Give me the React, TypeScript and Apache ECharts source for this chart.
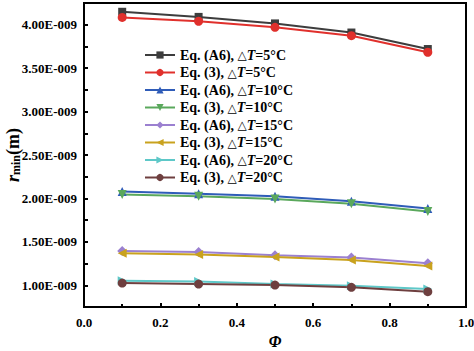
import React, { useEffect, useRef } from "react";
import * as echarts from "echarts";

const phi = [0.1, 0.3, 0.5, 0.7, 0.9];
const a6_5 = [4.149, 4.09, 4.015, 3.91, 3.72];
const eq3_5 = [4.084, 4.04, 3.97, 3.874, 3.683];
const a6_10 = [2.081, 2.055, 2.024, 1.967, 1.885];
const eq3_10 = [2.044, 2.024, 1.994, 1.94, 1.85];
const a6_15 = [1.395, 1.383, 1.345, 1.32, 1.254];
const eq3_15 = [1.368, 1.354, 1.327, 1.29, 1.223];
const a6_20 = [1.052, 1.045, 1.014, 0.995, 0.957];
const eq3_20 = [1.025, 1.014, 1.002, 0.976, 0.926];

const names = [
  "Eq. (A6), △T=5°C",
  "Eq. (3), △T=5°C",
  "Eq. (A6), △T=10°C",
  "Eq. (3), △T=10°C",
  "Eq. (A6), △T=15°C",
  "Eq. (3), △T=15°C",
  "Eq. (A6), △T=20°C",
  "Eq. (3), △T=20°C",
];
const values = [a6_5, eq3_5, a6_10, eq3_10, a6_15, eq3_15, a6_20, eq3_20];
const colors = ["#3d3d3d", "#e0302c", "#2f5cb8", "#5aa85c", "#9b80d0", "#c9a21e", "#5ec8c8", "#6e3f3f"];
const symbols = ["rect", "circle", "triangle", "triangle", "diamond", "triangle", "triangle", "circle"];
const rotations = [0, 0, 0, 180, 0, 90, -90, 0];
const sizes = [8, 9, 9, 9, 10, 9, 9, 9];

const FONT = "'Liberation Serif', 'Times New Roman', serif";

export default function App() {
  const ref = useRef<HTMLDivElement>(null);
  useEffect(() => {
    const chart = echarts.init(ref.current!, null, { renderer: "svg" });
    const series = names.map((n, i) => ({
      name: n,
      type: "line",
      data: phi.map((x, j) => [x, values[i][j]]),
      symbol: symbols[i],
      symbolRotate: rotations[i],
      symbolSize: sizes[i],
      color: colors[i],
      lineStyle: { width: 2, color: colors[i] },
      itemStyle: { color: colors[i] },
    }));
    chart.setOption({
      animation: false,
      grid: {
        left: 84,
        right: 8,
        top: 3,
        bottom: 44,
        containLabel: false,
        outerBoundsMode: "none",
        show: true,
        borderColor: "#000",
        borderWidth: 2,
        backgroundColor: "transparent",
      },
      legend: {
        orient: "vertical",
        left: 139,
        top: 42,
        itemWidth: 30,
        itemHeight: 9,
        itemGap: 1.5,
        data: names,
        formatter: (name: string) => {
          const parts = name.split("△T");
          return `{a|${parts[0]}}{d|△}{i|T}{a|${parts[1]}}`;
        },
        textStyle: {
          fontFamily: FONT,
          fontWeight: "bold",
          fontSize: 14,
          color: "#000",
          lineHeight: 16,
          rich: {
            a: { fontFamily: FONT, fontWeight: "bold", fontSize: 14, color: "#000", lineHeight: 16 },
            d: { fontFamily: "'DejaVu Sans', sans-serif", fontWeight: "normal", fontSize: 12, color: "#000", lineHeight: 16 },
            i: { fontFamily: FONT, fontWeight: "bold", fontStyle: "italic", fontSize: 14, color: "#000", lineHeight: 16 },
          },
        },
      },
      xAxis: {
        type: "value",
        min: 0,
        max: 1.0,
        interval: 0.2,
        name: "Φ",
        nameLocation: "middle",
        nameGap: 27,
        nameMoveOverlap: false,
        nameTextStyle: { fontFamily: FONT, fontWeight: "bold", fontStyle: "italic", fontSize: 16, lineHeight: 14, color: "#000" },
        axisLine: { show: true, lineStyle: { color: "#000", width: 2 } },
        axisTick: { show: true, inside: true, length: 4, lineStyle: { color: "#000", width: 2 } },
        minorTick: { show: true, splitNumber: 2, length: 3, lineStyle: { color: "#000", width: 2 } },
        splitLine: { show: false },
        axisLabel: {
          fontFamily: FONT,
          fontWeight: "bold",
          fontSize: 13,
          color: "#000",
          margin: 9,
          formatter: (v: number) => v.toFixed(1),
        },
      },
      yAxis: {
        type: "value",
        min: 0.75,
        max: 4.25,
        interval: 0.25,
        name: "{i|r}{s|min}{n|(m)}",
        nameLocation: "middle",
        nameGap: 62,
        nameMoveOverlap: false,
        nameTextStyle: {
          fontFamily: FONT,
          fontWeight: "bold",
          fontSize: 18,
          color: "#000",
          rich: {
            i: { fontFamily: FONT, fontWeight: "bold", fontStyle: "italic", fontSize: 18, color: "#000", lineHeight: 22, verticalAlign: "bottom" },
            s: { fontFamily: FONT, fontWeight: "bold", fontSize: 12, color: "#000", lineHeight: 22, verticalAlign: "bottom", padding: [6, 0, 0, 0] },
            n: { fontFamily: FONT, fontWeight: "bold", fontSize: 18, color: "#000", lineHeight: 22, verticalAlign: "bottom" },
          },
        },
        axisLine: { show: true, lineStyle: { color: "#000", width: 2 } },
        axisTick: { show: true, inside: true, length: 4, lineStyle: { color: "#000", width: 2 } },
        splitLine: { show: false },
        axisLabel: {
          fontFamily: FONT,
          fontWeight: "bold",
          fontSize: 13,
          color: "#000",
          margin: 7,
          formatter: (v: number) =>
            Math.abs(v * 2 - Math.round(v * 2)) < 1e-6 ? v.toFixed(2) + "E-009" : "",
        },
      },
      series,
    });
    return () => chart.dispose();
  }, []);
  return (
    <div
      ref={ref}
      style={{ position: "fixed", left: 0, top: 0, width: 474, height: 351, background: "#fff" }}
    />
  );
}
